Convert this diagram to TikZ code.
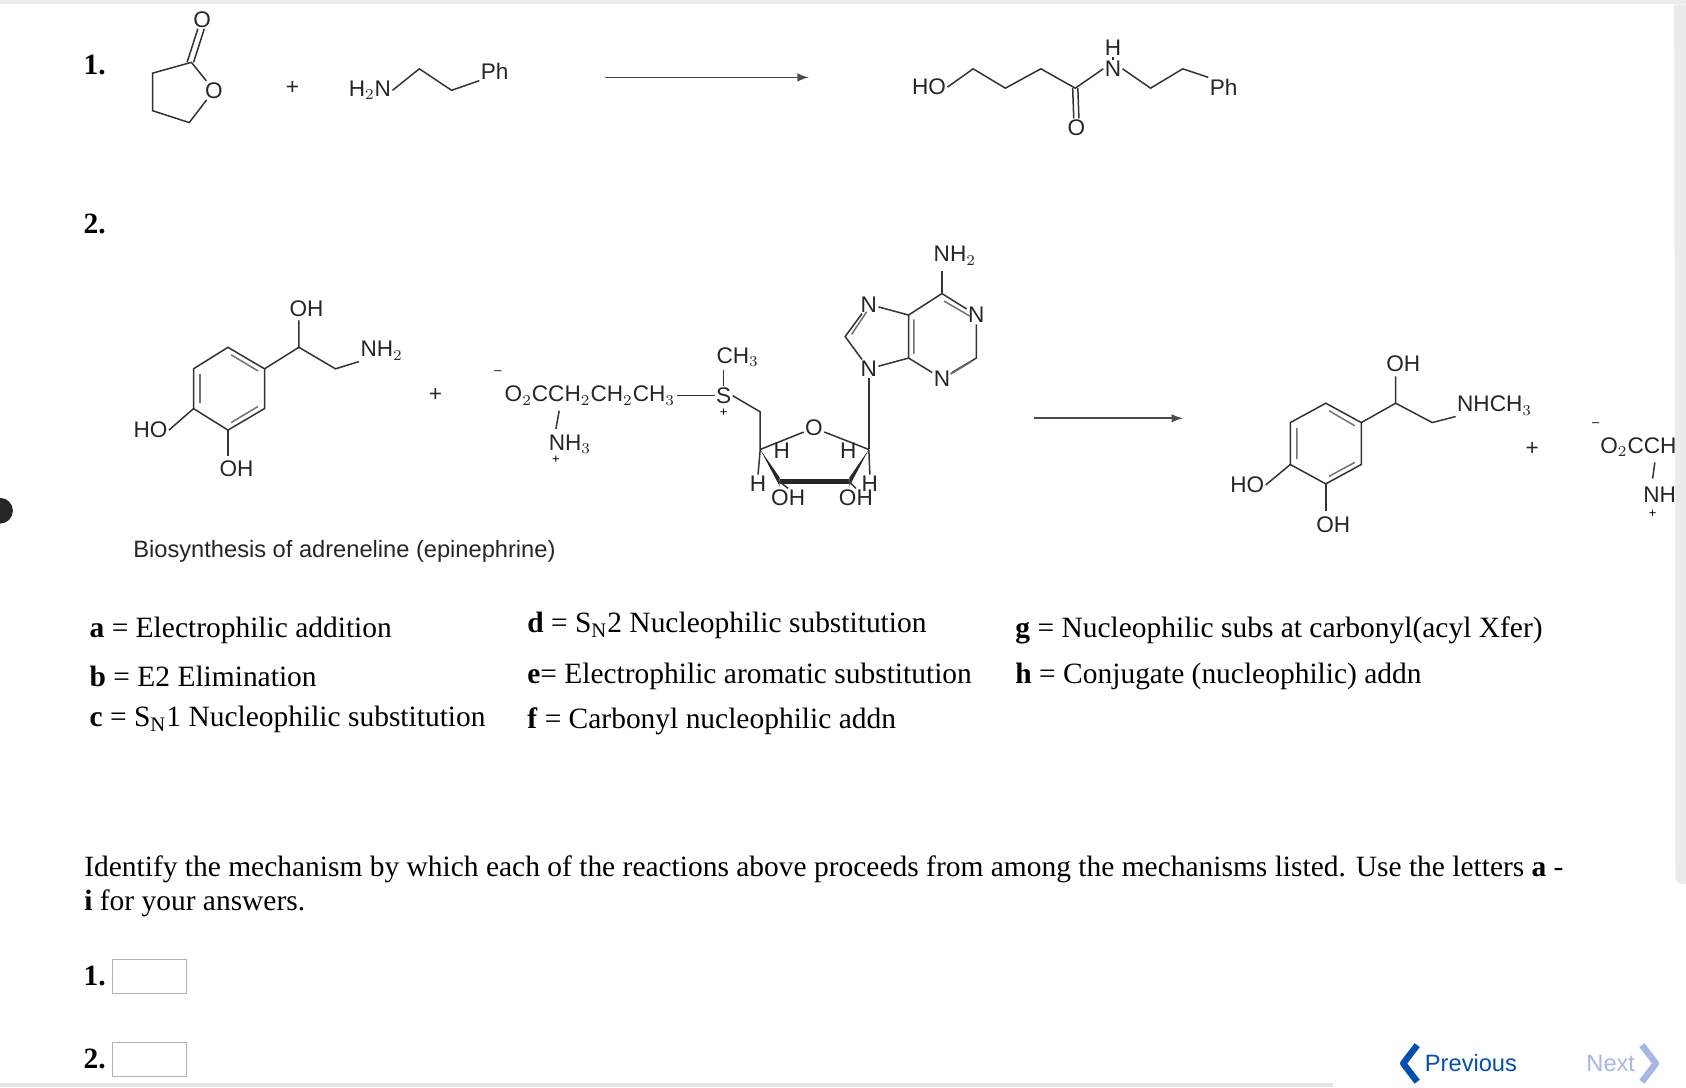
\documentclass[tikz,border=0pt]{standalone}
\usepackage{fontspec}
\setmainfont{Liberation Serif}
\setsansfont{Liberation Sans}
\begin{document}
\begin{tikzpicture}[x=0.5pt,y=-0.5pt,
  bd/.style={line width=0.7pt,draw=black!80},
  lab/.style={font=\sffamily\fontsize{10.5}{12}\selectfont,inner sep=0.5pt,text=black!85},
  sm/.style={font=\sffamily\fontsize{6}{7}\selectfont,inner sep=0pt},
  txt/.style={font=\fontsize{13.7}{16}\selectfont,anchor=west,inner sep=0pt},
  num/.style={font=\bfseries\fontsize{13.7}{16}\selectfont,inner sep=0pt},
  rarrow/.style={line width=0.8pt,draw=black!70,-latex}]
\useasboundingbox (0,0) rectangle (1568,1011);
\fill[black!8] (0,0) rectangle (1568,4);
\fill[black!8] (1557,4) -- (1568,4) -- (1568,822) -- (1564,822) arc[start angle=90,end angle=180,radius=6] -- cycle;
\fill[black!10] (0,1007) rectangle (1240,1011);
\begin{scope}
\clip (0,0) rectangle (20,1011);
\fill[black!85] (0,475) circle[radius=12];
\end{scope}

% ---------- Reaction 1
\node[num] (n1) at (88,60) {1.};
\coordinate (l2) at (178,58); \coordinate (l5) at (176,114);
\coordinate (l4) at (142,103); \coordinate (l3) at (142,68);
\node[lab] (lo) at (199,84) {O};
\node[lab] (lco) at (188,18) {O};
\draw[bd] (lo) -- (l2) -- (l3) -- (l4) -- (l5) -- (lo);
\draw[bd] ([xshift=-2pt]l2) -- ([xshift=-2pt]lco.south);
\draw[bd] ([xshift=1pt]l2) -- ([xshift=1pt]lco.south);
\node[lab] (p1) at (272,82) {+};
\node[lab] (h2n) at (344,84) {H$_2$N};
\node[lab] (ph1) at (460,66) {Ph};
\draw[bd] (h2n.east) -- (390,64) -- (420,84) -- (ph1.south west);
\coordinate (a1s) at (563,72); \coordinate (a1e) at (752,72);
\draw[rarrow] (a1s) -- (a1e);
\node[lab] (ho1) at (864,81) {HO};
\node[lab] (nam) at (1035,64) {N};
\node[lab] (hn) at (1035,44) {H};
\node[lab] (oam) at (1001,119) {O};
\node[lab] (ph2) at (1138,81) {Ph};
\coordinate (cam) at (1000,82);
\draw[bd] (ho1.east) -- (905,64) -- (935,82) -- (968,64) -- (cam) -- (nam.west);
\draw[bd] (nam.east) -- (1070,82) -- (1100,64) -- (ph2.north west);
\draw[bd] (nam) -- (hn);
\draw[bd] ([xshift=-1.2pt]cam) -- ([xshift=-1.2pt]oam.north);
\draw[bd] ([xshift=1.2pt]cam) -- ([xshift=1.2pt]oam.north);

% ---------- Reaction 2
\node[num] (n2) at (88,208) {2.};
\coordinate (r1) at (180,343); \coordinate (r2) at (212,323); \coordinate (r3) at (246,343);
\coordinate (r4) at (246,380); \coordinate (r5) at (212,400); \coordinate (r6) at (180,380);
\draw[bd] (r1) -- (r2) -- (r3) -- (r4) -- (r5) -- (r6) -- cycle;
\draw[bd,draw=black!55] (186,348) -- (186,375) (215,330) -- (240,345) (240,378) -- (215,393);
\coordinate (ch1) at (278,323);
\node[lab] (oh1) at (285,287) {OH};
\node[lab] (nh21) at (355,326) {NH$_2$};
\node[lab] (ho2) at (140,400) {HO};
\node[lab] (oh2) at (220,436) {OH};
\draw[bd] (r3) -- (ch1) -- (278,298);
\draw[bd] (ch1) -- (312,343) -- (nh21.south west);
\draw[bd] (r6) -- (ho2.east);
\draw[bd] (r5) -- (212,424);
\node[lab] (p2) at (405,367) {+};
\node[sm] (neg1) at (463,347) {--};
\node[lab,anchor=west] (sam) at (468,368) {O$_2$CCH$_2$CH$_2$CH$_3$};
\node[lab] (s) at (673,368) {S};
\draw[bd] (sam.east) -- (s.west);
\node[sm] (sp) at (673,384) {+};
\node[lab] (ch3) at (686,332) {CH$_3$};
\draw[bd] (673,344) -- (s.north);
\node[lab] (nh3) at (530,413) {NH$_3$};
\node[sm] (np) at (517,428) {+};
\draw[bd] (520,382) -- (517,399);
% ribose
\coordinate (c4) at (707,418); \coordinate (c1) at (808,418);
\coordinate (c2) at (790,448); \coordinate (c3) at (725,448);
\node[lab] (ro) at (757,398) {O};
\draw[bd] (s.east) -- (707,383) -- (c4);
\draw[bd] (c4) -- (ro) -- (c1);
\fill[black!85] (c4) -- ([yshift=-2pt]c3) -- ([yshift=2pt]c3) -- cycle;
\fill[black!85] (c1) -- ([yshift=-2pt]c2) -- ([yshift=2pt]c2) -- cycle;
\draw[line width=2.4pt,black!85] (c3) -- (c2);
\node[lab] (h1) at (727,419) {H};
\node[lab] (h2) at (789,419) {H};
\node[lab] (h3) at (705,450) {H};
\node[lab] (h4) at (809,450) {H};
\node[lab] (oh3) at (733,463) {OH};
\node[lab] (oh4) at (796,463) {OH};
\draw[bd] (c4) -- (h3.north);
\draw[bd] (c1) -- (h4.north);
\draw[bd] (c3) -- (oh3.north);
\draw[bd] (c2) -- (oh4.north);
% purine
\node[lab] (n9) at (808,343) {N};
\node[lab] (n7) at (808,283) {N};
\node[lab] (n1p) at (908,293) {N};
\node[lab] (n3) at (876,352) {N};
\coordinate (c8) at (786,313); \coordinate (c5) at (845,293); \coordinate (c4p) at (845,333);
\coordinate (c6) at (876,273); \coordinate (c2p) at (908,333);
\draw[bd] (c1) -- (n9.south);
\draw[bd] (n9) -- (c8) -- (n7) -- (c5) -- (c4p) -- (n9);
\draw[bd,draw=black!55] (792,311) -- (806,290) (850,297) -- (850,329);
\draw[bd] (c5) -- (c6) -- (n1p) -- (c2p) -- (n3) -- (c4p);
\draw[bd,draw=black!55] (878,280) -- (902,294) (904,336) -- (884,348);
\node[lab] (nh2p) at (888,238) {NH$_2$};
\draw[bd] (c6) -- (876,252);
\coordinate (a2s) at (962,389); \coordinate (a2e) at (1100,389);
\draw[rarrow] (a2s) -- (a2e);
% product
\coordinate (q1) at (1200,393); \coordinate (q2) at (1233,375); \coordinate (q3) at (1266,393);
\coordinate (q4) at (1266,432); \coordinate (q5) at (1233,450); \coordinate (q6) at (1200,432);
\draw[bd] (q1) -- (q2) -- (q3) -- (q4) -- (q5) -- (q6) -- cycle;
\draw[bd,draw=black!55] (1206,398) -- (1206,427) (1236,382) -- (1260,396) (1260,430) -- (1236,443);
\coordinate (ch2) at (1298,375);
\node[lab] (oh5) at (1305,338) {OH};
\node[lab] (nhc) at (1390,377) {NHCH$_3$};
\node[lab] (ho3) at (1160,451) {HO};
\node[lab] (oh6) at (1240,488) {OH};
\draw[bd] (q3) -- (ch2) -- (1298,350);
\draw[bd] (ch2) -- (1332,393) -- (nhc.south west);
\draw[bd] (q6) -- (ho3.east);
\draw[bd] (q5) -- (1233,475);
\node[lab] (p3) at (1425,418) {+};
\node[sm] (neg2) at (1484,395) {--};
\begin{scope}
\clip (1400,380) rectangle (1557,500);
\node[lab,anchor=west] (sam2) at (1487,416) {O$_2$CCH};
\node[lab,anchor=west] (nh4) at (1527,460) {NH};
\end{scope}
\draw[bd] (1539,430) -- (1537,445);
\node[sm] (np2) at (1537,478) {+};
\node[font=\sffamily\fontsize{11}{13}\selectfont,anchor=west,text=black!85] (cap) at (117,513) {Biosynthesis of adreneline (epinephrine)};

% ---------- list
\node[txt] (la) at (83,586) {\textbf{a} = Electrophilic addition};
\node[txt] (lb) at (83,629) {\textbf{b} = E2 Elimination};
\node[txt] (lc) at (83,669) {\textbf{c} = S$_{\mathrm{N}}$1 Nucleophilic substitution};
\node[txt] (ld) at (490,582) {\textbf{d} = S$_{\mathrm{N}}$2 Nucleophilic substitution};
\node[txt] (le) at (490,629) {\textbf{e}= Electrophilic aromatic substitution};
\node[txt] (lf) at (490,671) {\textbf{f} = Carbonyl nucleophilic addn};
\node[txt] (lg) at (944,586) {\textbf{g} = Nucleophilic subs at carbonyl(acyl Xfer)};
\node[txt] (lh) at (944,629) {\textbf{h} = Conjugate (nucleophilic) addn};
\node[txt] (q1t) at (78,808) {Identify the mechanism by which each of the reactions above proceeds from among the mechanisms listed. Use the letters \textbf{a} -};
\node[txt] (q2t) at (78,840) {\textbf{i} for your answers.};
\node[num] (a1) at (88,908) {1.};
\node[draw=black!30,minimum width=34pt,minimum height=16pt,inner sep=0pt] (box1) at (139,908) {};
\node[num] (a2) at (88,985) {2.};
\node[draw=black!30,minimum width=34pt,minimum height=16pt,inner sep=0pt] (box2) at (139,985) {};
% nav
\draw[line width=3pt,color=blue!55!cyan!70!black,line join=round] (1318,972) -- (1305,989) -- (1318,1006);
\node[font=\sffamily\fontsize{11}{13}\selectfont,text=blue!55!cyan!70!black] (prev) at (1368,989) {Previous};
\node[font=\sffamily\fontsize{11}{13}\selectfont,text=cyan!40!blue!35] (next) at (1498,989) {Next};
\draw[line width=3pt,color=cyan!40!blue!35,line join=round] (1527,972) -- (1540,989) -- (1527,1006);
\end{tikzpicture}
\end{document}
